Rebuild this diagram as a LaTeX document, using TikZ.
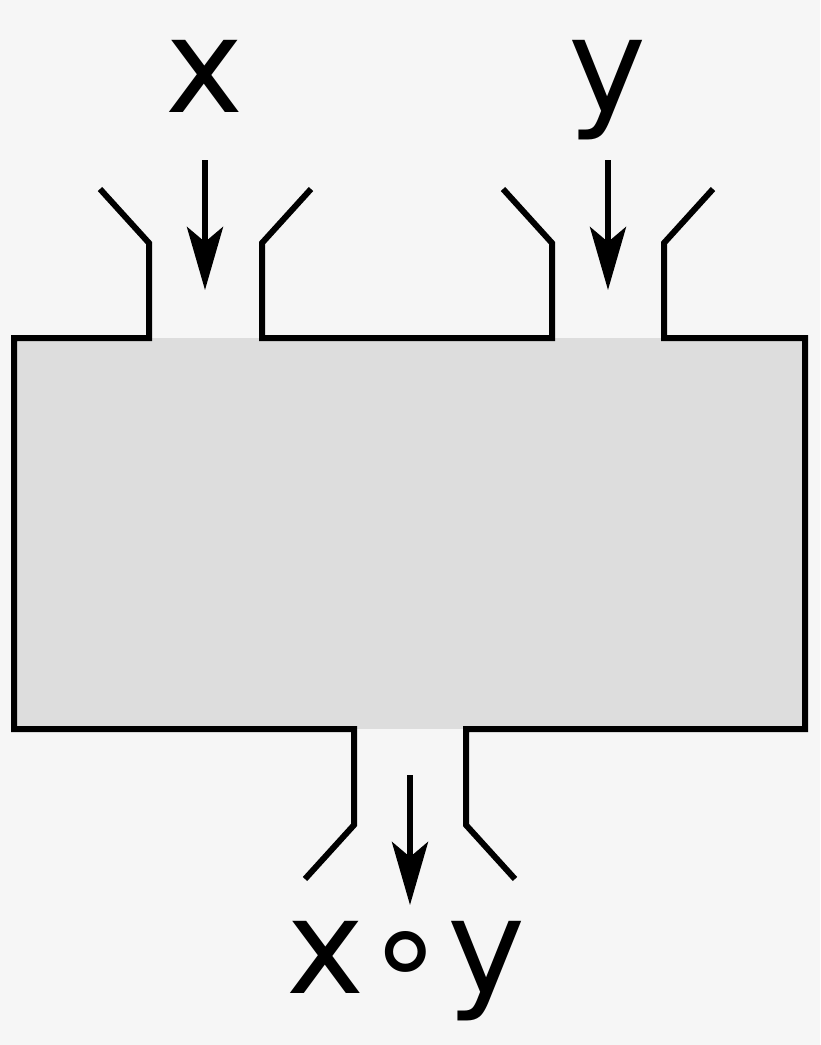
\documentclass[tikz,border=0pt]{standalone}
\usepackage{fontspec}
\setmainfont{DejaVu Sans}
\usetikzlibrary{arrows.meta}
\definecolor{paper}{HTML}{F6F6F6}
\definecolor{boxgrey}{HTML}{DDDDDD}

\begin{document}
\begin{tikzpicture}[
    x=1pt, y=-1pt,
    wall/.style={draw=black, line width=6pt, miter limit=10},
    flow/.style={-{Stealth[length=63pt, width=36pt, inset=15pt]}, line width=6pt},
    letter/.style={anchor=base, inner sep=0pt, font=\fontsize{132}{140}\selectfont}
]
\useasboundingbox[fill=paper] (0,0) rectangle (820,1045);

% machine body
\fill[boxgrey] (14,338) rectangle (805,729);

% outline with the two inlets and the outlet
\draw[wall] (100,189) -- (149,243) -- (149,338) -- (14,338) -- (14,729)
    -- (354,729) -- (354,825) -- (305,879);
\draw[wall] (515,879) -- (466,825) -- (466,729) -- (805,729) -- (805,338)
    -- (664,338) -- (664,243) -- (713,189);
\draw[wall] (311,189) -- (262,243) -- (262,338) -- (552,338) -- (552,243)
    -- (503,189);

% inputs and output
\node[letter] (inx) at (205,112) {x};
\node[letter] (iny) at (608,112) {y};
\node[letter] (outxy) at (406,993) {x∘y};

\coordinate (xfrom) at (205,160);
\coordinate (xto) at (205,290);
\coordinate (yfrom) at (608,160);
\coordinate (yto) at (608,290);
\coordinate (ofrom) at (410,775);
\coordinate (oto) at (410,905);

\draw[flow] (xfrom) -- (xto);
\draw[flow] (yfrom) -- (yto);
\draw[flow] (ofrom) -- (oto);

\end{tikzpicture}
\end{document}
